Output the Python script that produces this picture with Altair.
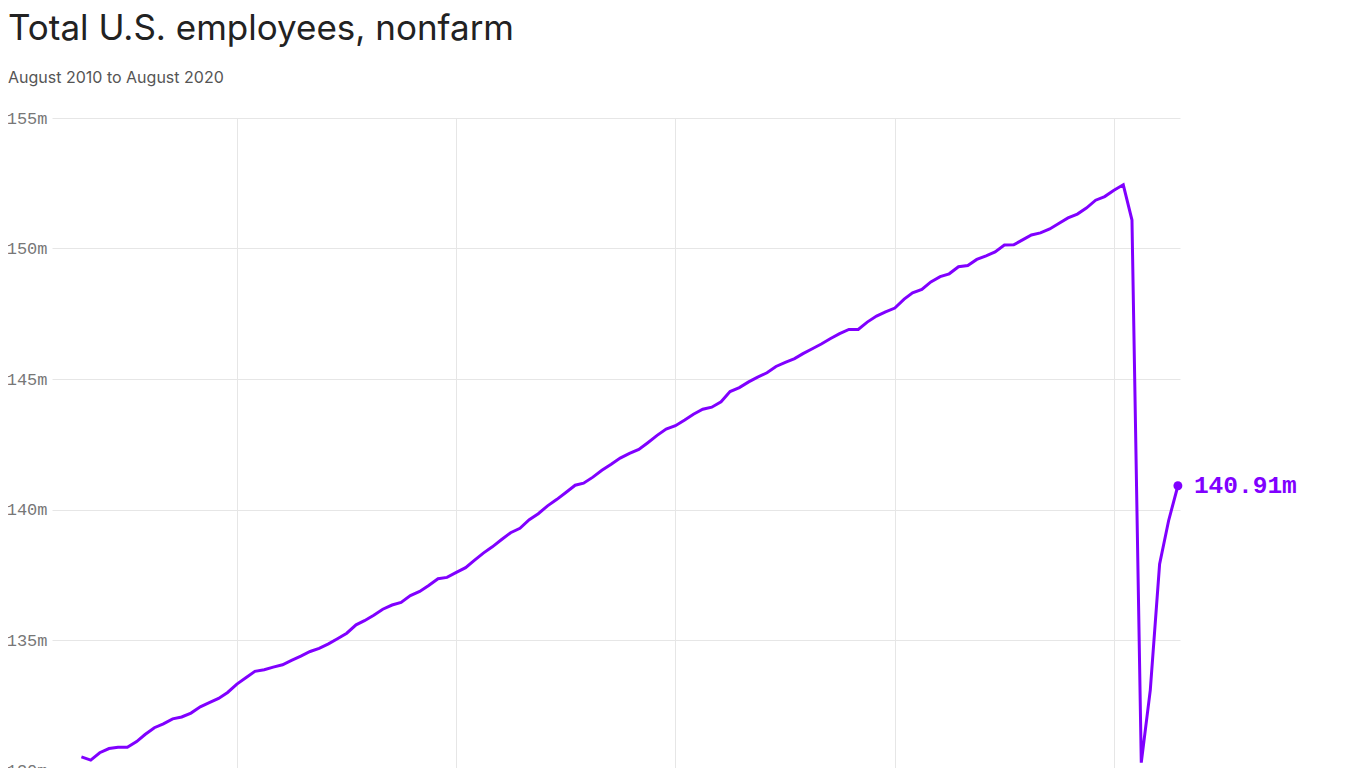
import altair as alt
import pandas as pd

# Monthly total nonfarm employees (millions), Aug 2010 .. Aug 2020
values_2010 = [130.52, 130.40, 130.68, 130.84, 130.89]
values_2011 = [130.89, 131.11, 131.38, 131.64, 131.79, 131.98, 132.05, 132.20, 132.44, 132.60, 132.76, 132.99]
values_2012 = [133.31, 133.56, 133.80, 133.86, 133.96, 134.05, 134.22, 134.38, 134.56, 134.68, 134.85, 135.05]
values_2013 = [135.26, 135.58, 135.74, 135.95, 136.18, 136.34, 136.44, 136.70, 136.86, 137.09, 137.35, 137.40]
values_2014 = [137.59, 137.77, 138.04, 138.33, 138.57, 138.85, 139.11, 139.28, 139.61, 139.84, 140.14, 140.38]
values_2015 = [140.65, 140.93, 141.01, 141.24, 141.50, 141.73, 141.97, 142.15, 142.30, 142.56, 142.84, 143.08]
values_2016 = [143.21, 143.43, 143.65, 143.84, 143.92, 144.13, 144.52, 144.67, 144.89, 145.07, 145.24, 145.48]
values_2017 = [145.64, 145.78, 145.97, 146.16, 146.34, 146.55, 146.74, 146.90, 146.90, 147.18, 147.41, 147.57]
values_2018 = [147.72, 148.06, 148.30, 148.43, 148.72, 148.92, 149.03, 149.30, 149.35, 149.58, 149.72, 149.87]
values_2019 = [150.13, 150.14, 150.32, 150.52, 150.60, 150.75, 150.96, 151.17, 151.32, 151.55, 151.85, 151.99]
values_2020 = [152.23, 152.44, 151.09, 130.30, 133.08, 137.90, 139.57, 140.91]

employees = (values_2010 + values_2011 + values_2012 + values_2013 + values_2014 +
             values_2015 + values_2016 + values_2017 + values_2018 + values_2019 + values_2020)
months = [d.strftime("%Y-%m-%d") for d in pd.date_range("2010-08-01", "2020-08-01", freq="MS")]

y_ticks = [130, 135, 140, 145, 150, 155]
x_grid_years = [2012, 2014, 2016, 2018, 2020]

TITLE = "Total U.S. employees, nonfarm"
SUBTITLE = "August 2010 to August 2020"
PURPLE = "#8000ff"

df = pd.DataFrame({"month": months, "employees": employees})
last = df.tail(1).copy()
last["label"] = [f"{v:.2f}m" for v in last["employees"]]

x_enc = alt.X(
    "month:T",
    scale=alt.Scale(domain=[alt.DateTime(year=2010, month=4, date=25),
                            alt.DateTime(year=2020, month=8, date=8)]),
    axis=alt.Axis(
        values=[alt.DateTime(year=y, month=1, date=1) for y in x_grid_years],
        labels=False, title=None, domain=False, ticks=False,
        gridColor="#e6e6e6", gridWidth=1,
    ),
)
y_enc = alt.Y(
    "employees:Q",
    scale=alt.Scale(domain=[130, 155], nice=False, zero=False),
    axis=alt.Axis(
        values=y_ticks, labelExpr="datum.value + 'm'", title=None,
        domain=False, ticks=False, labelPadding=5,
        labelFont="Liberation Mono", labelFontSize=17, labelColor="#777777",
        gridColor="#e6e6e6", gridWidth=1,
    ),
)

line = alt.Chart(df).mark_line(color=PURPLE, strokeWidth=3).encode(x=x_enc, y=y_enc)
dot = alt.Chart(last).mark_circle(color=PURPLE, size=80, opacity=1).encode(x="month:T", y="employees:Q")
label = alt.Chart(last).mark_text(
    align="left", baseline="middle", dx=16, color=PURPLE,
    font="Liberation Mono", fontSize=24.5, fontWeight="bold",
).encode(x="month:T", y="employees:Q", text="label:N")

chart = alt.layer(line, dot, label).properties(
    width=1128,
    height=652.5,
    title=alt.TitleParams(
        text=TITLE, subtitle=SUBTITLE, anchor="start", frame="group", dx=-44,
        font="Inter", fontSize=35, fontWeight="normal", color="#222222",
        subtitleFont="Inter", subtitleFontSize=16, subtitleColor="#555555",
        subtitlePadding=23, offset=23,
    ),
    autosize=alt.AutoSizeParams(type="none"),
    padding={"left": 44, "top": 110, "right": 170, "bottom": 40},
).configure_view(strokeWidth=0)

chart.save("out.html", embed_options={"renderer": "svg", "actions": False})
